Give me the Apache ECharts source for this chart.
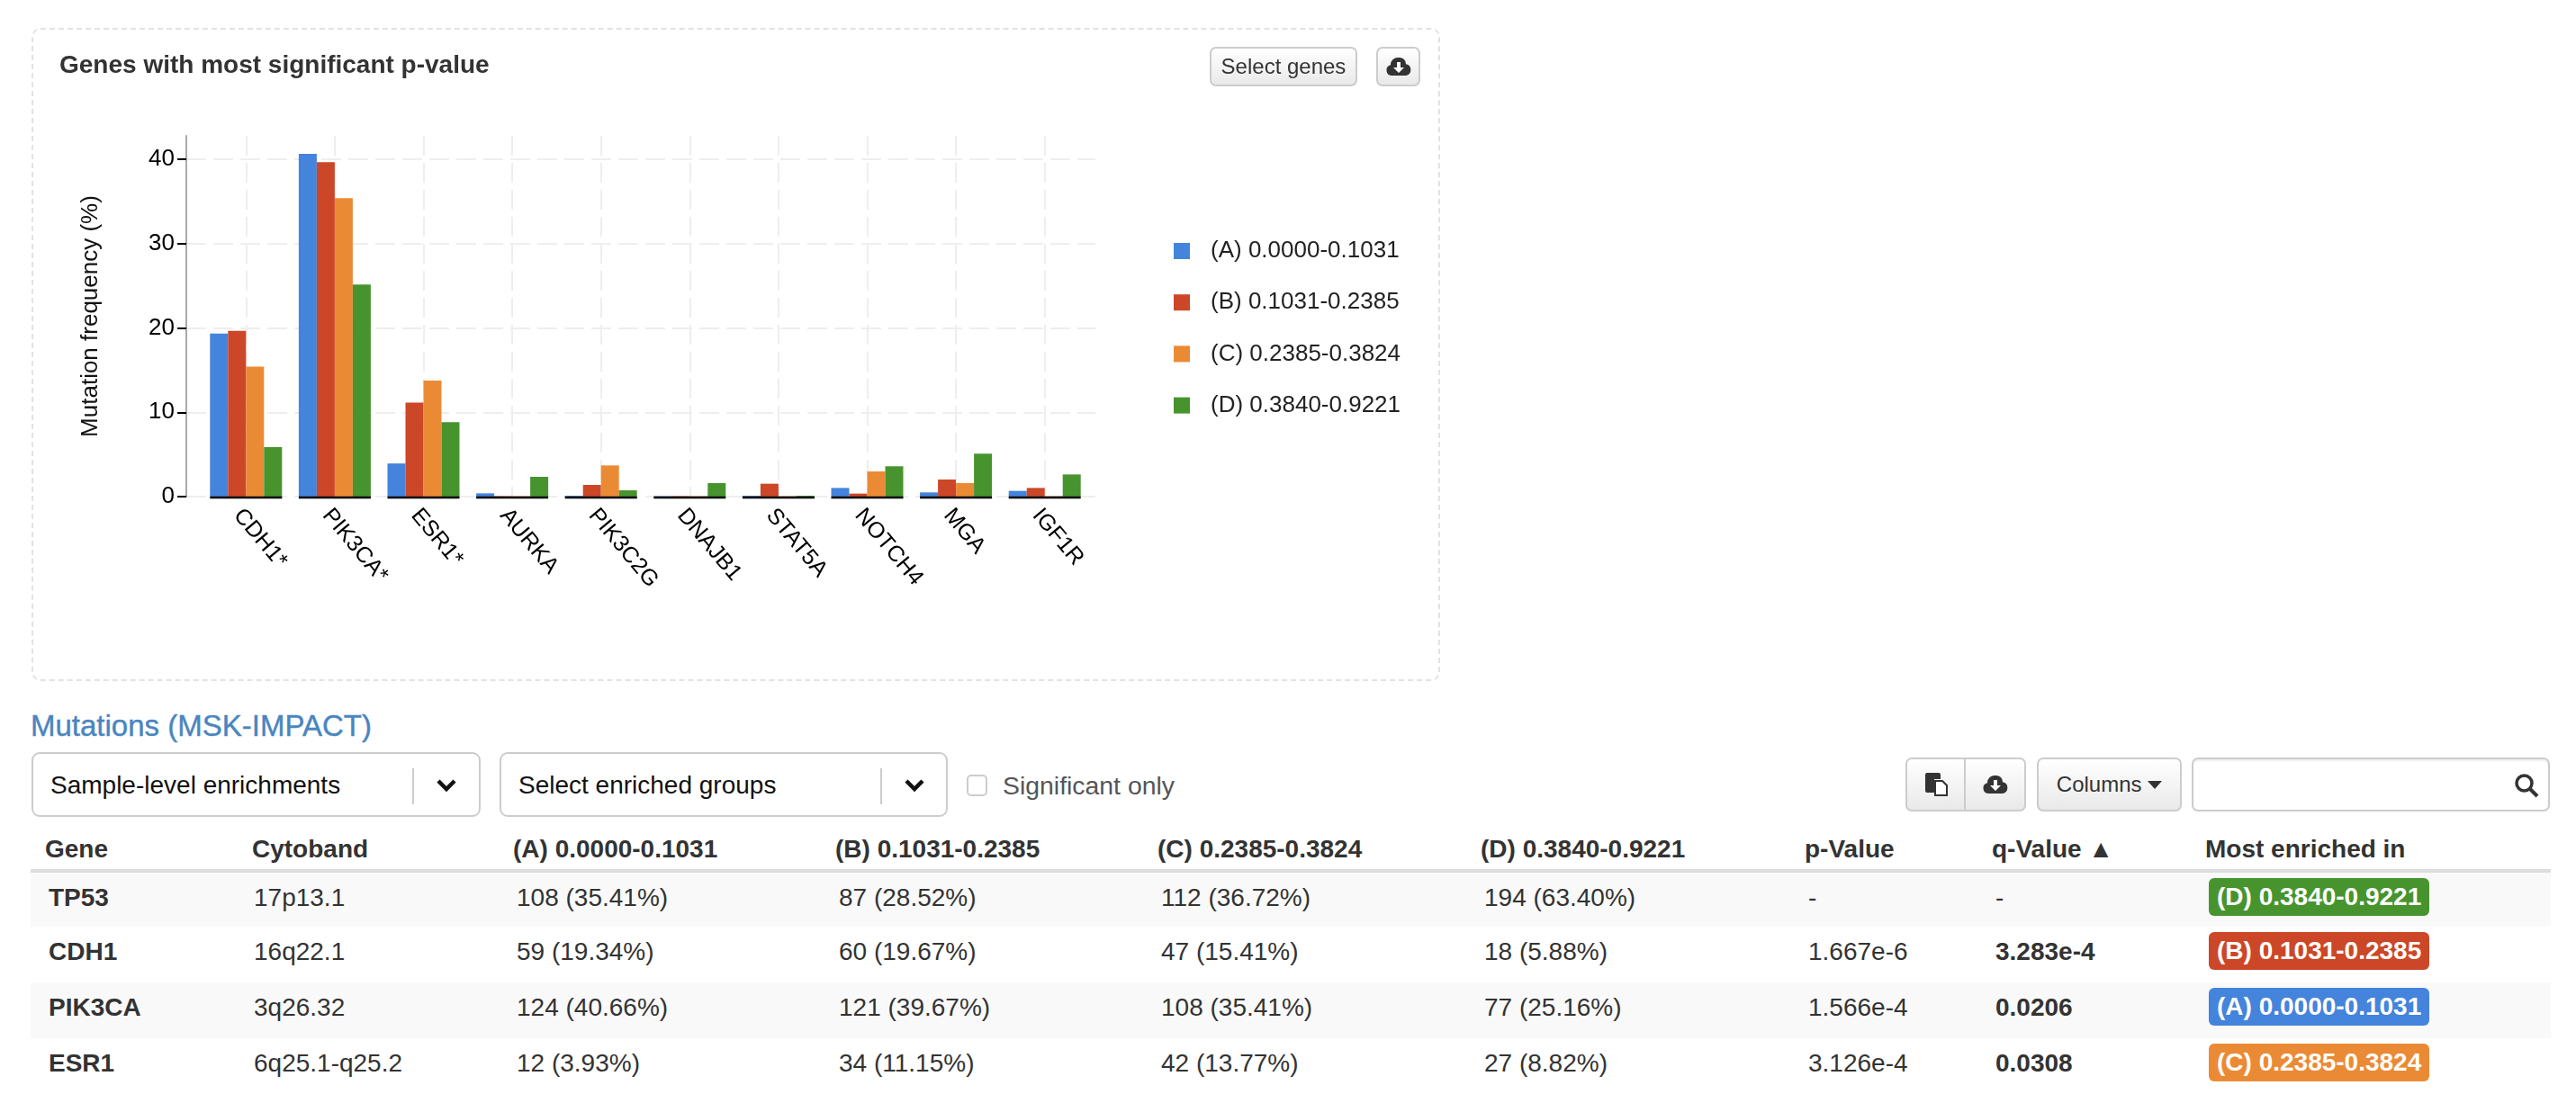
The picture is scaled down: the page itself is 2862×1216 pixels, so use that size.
<!DOCTYPE html>
<html>
<head>
<meta charset="utf-8">
<title>Mutations</title>
<script src="https://cdn.jsdelivr.net/npm/echarts@6/dist/echarts.min.js"></script>
<style>
  html, body { margin: 0; padding: 0; width: 2862px; height: 1216px; overflow: hidden; background: #fff; }
  body { font-family: "Liberation Sans", Arial, sans-serif; color: #333; position: relative; }
  .abs { position: absolute; box-sizing: border-box; }
  #panel { left: 35px; top: 31px; width: 1565px; height: 726px; border: 2px dashed #e2e2e2; border-radius: 10px; }
  #main { position: absolute; left: 0; top: 0; width: 1640px; height: 760px; }
  .btn { background: linear-gradient(#fff, #e9e9e9); border: 2px solid #ccc; border-radius: 7px; font-size: 24px; color: #333;
    display: flex; align-items: center; justify-content: center; white-space: nowrap; }
  .drop { border: 2px solid #ccc; border-radius: 9px; background: #fff; font-size: 28px; color: #111; }
  .drop span { position: absolute; left: 19px; top: 0; line-height: 70px; white-space: nowrap; }
  .drop i { position: absolute; left: 421px; top: 16px; width: 2px; height: 40px; background: #ccc; }
  .drop svg { position: absolute; left: 447px; top: 27px; }
  #heading { left: 34px; top: 785px; font-size: 33px; line-height: 44px; color: #4a85bf; white-space: nowrap; -webkit-text-stroke: 0.4px #4a85bf; }
  #check { left: 1074px; top: 861px; width: 23px; height: 24px; border: 2px solid #ccc; border-radius: 5px; background: #fff; }
  #checkLabel { left: 1114px; top: 853px; font-size: 28.4px; line-height: 40px; color: #555; white-space: nowrap; }
  #search { left: 2435px; top: 842px; width: 398px; height: 60px; border: 2px solid #ccc; border-radius: 7px; background: #fff; box-shadow: inset 0 2px 2px #eee; }
  table { position: absolute; left: 34px; top: 921px; width: 2800px; border-collapse: collapse; table-layout: fixed; }
  th { height: 45px; padding: 0 0 0 16px; font-size: 28px; font-weight: bold; text-align: left; color: #333; border-bottom: 4px solid #ddd; white-space: nowrap; box-sizing: content-box; }
  td { height: 62px; padding: 0 0 0 20px; font-size: 28px; line-height: 55px; vertical-align: top; color: #333; white-space: nowrap; box-sizing: border-box; }
  td.cyto { padding-left: 18px; }
  tbody tr:nth-child(odd) { background: #f9f9f9; }
  .badge { display: inline-block; height: 42px; line-height: 42px; margin-top: 6px; padding: 0 9px 0 9px; border-radius: 6px; color: #fff; font-weight: bold; vertical-align: top; }
</style>
</head>
<body>
<div id="panel" class="abs"></div>
<div id="main"></div>
<div class="abs btn" style="left:1344px;top:52px;width:164px;height:44px;">Select genes</div>
<div class="abs btn" style="left:1529px;top:52px;width:49px;height:44px;">
  <svg width="28" height="22" viewBox="0 0 28 22"><path d="M6 21a6 6 0 0 1-1-11.8A8 8 0 0 1 14 1a7 7 0 0 1 8 7.2A6.5 6.5 0 0 1 22 21z" fill="#333"/><path d="M12 6h4v6h4l-6 6-6-6h4z" fill="#fff"/></svg>
</div>

<div id="heading" class="abs">Mutations (MSK-IMPACT)</div>
<div class="abs drop" style="left:35px;top:836px;width:499px;height:72px;"><span>Sample-level enrichments</span><i></i>
  <svg width="24" height="16" viewBox="0 0 24 16"><path d="M3 3l9 9 9-9" fill="none" stroke="#111" stroke-width="4.5"/></svg></div>
<div class="abs drop" style="left:555px;top:836px;width:498px;height:72px;"><span>Select enriched groups</span><i></i>
  <svg width="24" height="16" viewBox="0 0 24 16"><path d="M3 3l9 9 9-9" fill="none" stroke="#111" stroke-width="4.5"/></svg></div>
<div id="check" class="abs"></div>
<div id="checkLabel" class="abs">Significant only</div>

<div class="abs btn" style="left:2117px;top:842px;width:67px;height:60px;border-radius:7px 0 0 7px;">
  <svg width="26" height="26" viewBox="0 0 26 26"><path d="M1 2a2 2 0 0 1 2-2h13a2 2 0 0 1 2 2v5h-7v15H3a2 2 0 0 1-2-2z" fill="#333"/><path d="M12 9h8l5 5v11H12z" fill="#fff" stroke="#333" stroke-width="2"/></svg>
</div>
<div class="abs btn" style="left:2182px;top:842px;width:69px;height:60px;border-radius:0 7px 7px 0;">
  <svg width="28" height="22" viewBox="0 0 28 22"><path d="M6 21a6 6 0 0 1-1-11.8A8 8 0 0 1 14 1a7 7 0 0 1 8 7.2A6.5 6.5 0 0 1 22 21z" fill="#333"/><path d="M12 6h4v6h4l-6 6-6-6h4z" fill="#fff"/></svg>
</div>
<div class="abs btn" style="left:2263px;top:842px;width:161px;height:60px;">Columns&nbsp;<svg width="16" height="9" viewBox="0 0 16 9"><path d="M0 0h16l-8 9z" fill="#333"/></svg></div>
<div id="search" class="abs">
  <svg style="position:absolute;left:356px;top:15px" width="28" height="28" viewBox="0 0 28 28"><circle cx="11.5" cy="11.5" r="8.5" fill="none" stroke="#333" stroke-width="3.5"/><path d="M18 18l8 8" stroke="#333" stroke-width="4"/></svg>
</div>
<table id="tbl"></table>

<script>
// chart data
var categories = ['CDH1*', 'PIK3CA*', 'ESR1*', 'AURKA', 'PIK3C2G', 'DNAJB1', 'STAT5A', 'NOTCH4', 'MGA', 'IGF1R'];
var groupNames = ['(A) 0.0000-0.1031', '(B) 0.1031-0.2385', '(C) 0.2385-0.3824', '(D) 0.3840-0.9221'];
var groupColors = ['#4484dc', '#cc4727', '#eb8a35', '#47942f'];
var groupA = [19.34, 40.66, 3.93, 0.39, 0.1, 0.05, 0.1, 1.03, 0.5, 0.68];
var groupB = [19.67, 39.67, 11.15, 0.05, 1.39, 0.05, 1.53, 0.36, 2.03, 1.03];
var groupC = [15.41, 35.41, 13.77, 0.05, 3.7, 0.05, 0.05, 2.99, 1.6, 0.05];
var groupD = [5.88, 25.16, 8.82, 2.35, 0.75, 1.6, 0.1, 3.6, 5.1, 2.63];
var yTicks = [0, 10, 20, 30, 40];
var yMax = 42.8;

// table data
var tableHead = ['Gene', 'Cytoband', '(A) 0.0000-0.1031', '(B) 0.1031-0.2385', '(C) 0.2385-0.3824', '(D) 0.3840-0.9221', 'p-Value', 'q-Value ▲', 'Most enriched in'];
var colWidths = [230, 290, 358, 358, 359, 360, 208, 237, 400];
var tableRows = [
  ['TP53', '17p13.1', '108 (35.41%)', '87 (28.52%)', '112 (36.72%)', '194 (63.40%)', '-', '-', 3],
  ['CDH1', '16q22.1', '59 (19.34%)', '60 (19.67%)', '47 (15.41%)', '18 (5.88%)', '1.667e-6', '3.283e-4', 1],
  ['PIK3CA', '3q26.32', '124 (40.66%)', '121 (39.67%)', '108 (35.41%)', '77 (25.16%)', '1.566e-4', '0.0206', 0],
  ['ESR1', '6q25.1-q25.2', '12 (3.93%)', '34 (11.15%)', '42 (13.77%)', '27 (8.82%)', '3.126e-4', '0.0308', 2]
];

var html = '<colgroup>' + colWidths.map(function (w) { return '<col style="width:' + w + 'px">'; }).join('') + '</colgroup>';
html += '<thead><tr>' + tableHead.map(function (h) { return '<th>' + h + '</th>'; }).join('') + '</tr></thead><tbody>';
tableRows.forEach(function (r) {
  html += '<tr><td><b>' + r[0] + '</b></td><td class="cyto">' + r[1] + '</td>';
  for (var i = 2; i < 7; i++) html += '<td>' + r[i] + '</td>';
  html += '<td>' + (r[7] === '-' ? r[7] : '<b>' + r[7] + '</b>') + '</td>';
  html += '<td><span class="badge" style="background:' + groupColors[r[8]] + '">' + groupNames[r[8]] + '</span></td></tr>';
});
document.getElementById('tbl').innerHTML = html + '</tbody>';

var barW = 20;
var font = '"Liberation Sans", Arial, sans-serif';
var gridLine = { color: '#eeeeee', width: 2, type: [22, 8] };

function barSeries(name, values, color) {
  return {
    name: name,
    type: 'bar',
    xAxisIndex: 1,
    yAxisIndex: 1,
    data: values,
    barWidth: barW,
    barGap: 0,
    itemStyle: { color: color }
  };
}

var myChart = echarts.init(document.getElementById('main'));
myChart.setOption({
  animation: false,
  title: {
    text: 'Genes with most significant p-value',
    left: 66,
    top: 59,
    padding: 0,
    textStyle: { fontFamily: font, fontSize: 28, fontWeight: 'bold', color: '#333' }
  },
  legend: {
    orient: 'vertical',
    left: 1304,
    top: 266,
    padding: 0,
    data: groupNames,
    icon: 'rect',
    itemWidth: 18,
    itemHeight: 18,
    itemGap: 31.2,
    selectedMode: false,
    itemStyle: { borderWidth: 0 },
    textStyle: { fontFamily: font, fontSize: 26, color: '#222', lineHeight: 18, padding: [0, 0, 0, 18] }
  },
  grid: [
    { left: 207, width: 1010, top: 151, height: 401 },
    { left: 224, width: 986, top: 151, height: 401 }
  ],
  xAxis: [
    { type: 'value', gridIndex: 0, show: false },
    {
      type: 'category',
      gridIndex: 1,
      data: categories,
      axisLine: { show: false },
      axisTick: { show: false },
      axisLabel: {
        rotate: -50,
        interval: 0,
        margin: 9,
        verticalAlign: 'top',
        lineHeight: 24,
        fontFamily: font,
        fontSize: 25,
        color: '#000'
      },
      splitLine: { show: true, alignWithLabel: true, lineStyle: gridLine }
    }
  ],
  yAxis: [
    {
      type: 'value',
      gridIndex: 0,
      min: 0,
      max: yMax,
      name: 'Mutation frequency (%)',
      nameLocation: 'middle',
      nameGap: 93,
      nameTextStyle: { fontFamily: font, fontSize: 26, color: '#111' },
      axisLine: { show: true, lineStyle: { color: '#aaaaaa', width: 2 } },
      axisTick: { show: true, length: 10, customValues: yTicks, lineStyle: { color: '#000', width: 2 } },
      axisLabel: { customValues: yTicks, margin: 13, fontFamily: font, fontSize: 26, color: '#000' },
      splitLine: { show: true, lineStyle: gridLine }
    },
    { type: 'value', gridIndex: 1, min: 0, max: yMax, show: false, splitLine: { show: false } }
  ],
  series: [
    barSeries(groupNames[0], groupA, groupColors[0]),
    barSeries(groupNames[1], groupB, groupColors[1]),
    barSeries(groupNames[2], groupC, groupColors[2]),
    barSeries(groupNames[3], groupD, groupColors[3]),
    {
      // black base under each group of bars
      type: 'custom',
      xAxisIndex: 1,
      yAxisIndex: 1,
      silent: true,
      z: 5,
      data: categories.map(function (c, i) { return [i, 0]; }),
      encode: { x: 0, y: 1 },
      renderItem: function (params, api) {
        var p = api.coord([api.value(0), 0]);
        return {
          type: 'line',
          shape: { x1: p[0] - barW * 2, y1: p[1] + 1, x2: p[0] + barW * 2, y2: p[1] + 1 },
          style: { stroke: '#000', lineWidth: 2.5 }
        };
      }
    }
  ]
});
</script>
</body>
</html>
